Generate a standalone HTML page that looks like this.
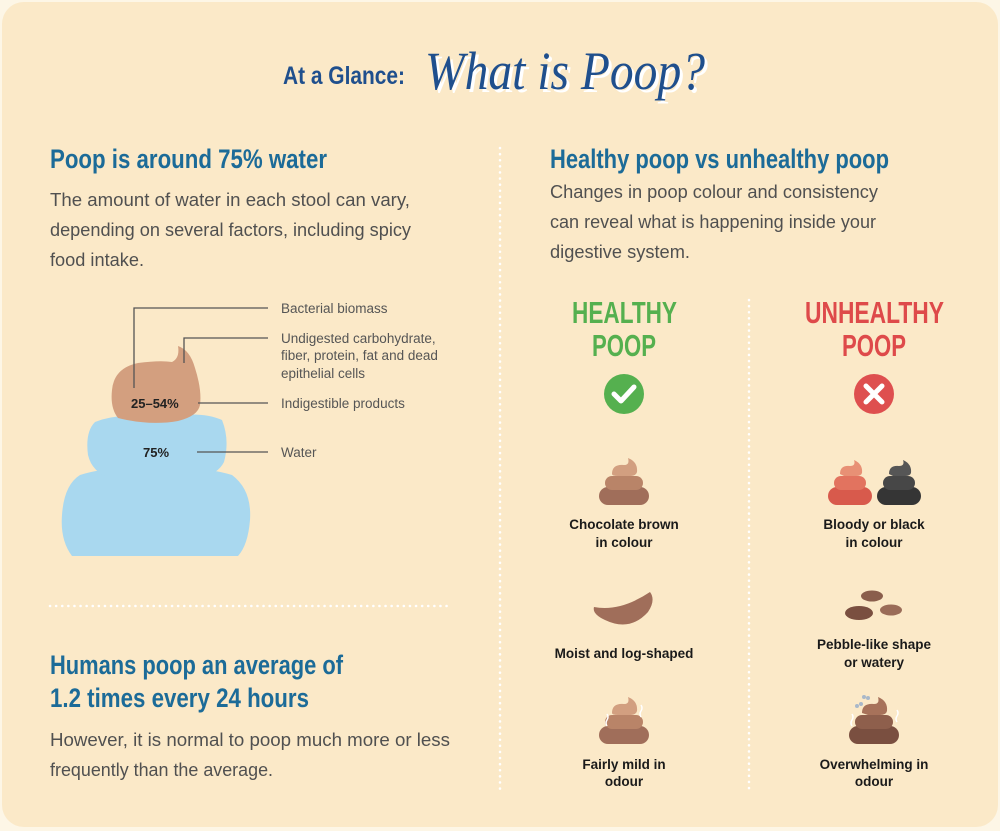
<!DOCTYPE html>
<html><head><meta charset="utf-8"><style>
html,body{margin:0;padding:0;background:#fdf6e6;}
svg{display:block}
</style></head><body>
<svg width="1000" height="831" viewBox="0 0 1000 831" xmlns="http://www.w3.org/2000/svg">
<defs>
<g id="pooH">
<rect x="-25" y="-9" width="50" height="18" rx="9" fill="#a06e5a"/>
<rect x="-19" y="-20" width="38" height="14" rx="7" fill="#b98468"/>
<path d="M-12,-22 Q-12,-32 0,-31 Q6,-31 4,-38 Q14,-34 13,-24 Q12,-20 6,-20 L-6,-20 Q-12,-20 -12,-22Z" fill="#d29f80"/>
</g>
</defs>
<rect x="0" y="0" width="1000" height="831" fill="#fdf6e6"/>
<rect x="2" y="2" width="996" height="825" rx="22" fill="#fbe9c8"/>
<g font-family="'Liberation Sans Narrow','Liberation Sans',sans-serif" font-weight="bold">
<text x="283" y="84" font-size="25" fill="#1f4f8d" textLength="122" lengthAdjust="spacingAndGlyphs">At a Glance:</text>
<text x="428" y="92" font-family="'Liberation Serif',serif" font-style="italic" font-weight="normal" font-size="54" fill="#fff" textLength="280" lengthAdjust="spacingAndGlyphs">What is Poop?</text>
<text x="425" y="89" font-family="'Liberation Serif',serif" font-style="italic" font-weight="normal" font-size="54" fill="#1f4f8d" textLength="280" lengthAdjust="spacingAndGlyphs">What is Poop?</text>
<g fill="#1c6b98" font-size="27">
<text x="50" y="168" textLength="277" lengthAdjust="spacingAndGlyphs">Poop is around 75% water</text>
<text x="550" y="168" textLength="339" lengthAdjust="spacingAndGlyphs">Healthy poop vs unhealthy poop</text>
<text x="50" y="674" textLength="293" lengthAdjust="spacingAndGlyphs">Humans poop an average of</text>
<text x="50" y="707" textLength="259" lengthAdjust="spacingAndGlyphs">1.2 times every 24 hours</text>
</g>
<g font-size="31">
<text x="572" y="323" fill="#55b04f" textLength="105" lengthAdjust="spacingAndGlyphs">HEALTHY</text>
<text x="592" y="356" fill="#55b04f" textLength="64" lengthAdjust="spacingAndGlyphs">POOP</text>
<text x="805" y="323" fill="#de4a4a" textLength="139" lengthAdjust="spacingAndGlyphs">UNHEALTHY</text>
<text x="842" y="356" fill="#de4a4a" textLength="64" lengthAdjust="spacingAndGlyphs">POOP</text>
</g>
</g>
<g font-family="'Liberation Sans',sans-serif" font-size="18" fill="#505050">
<text x="50" y="206" textLength="360" lengthAdjust="spacingAndGlyphs">The amount of water in each stool can vary,</text>
<text x="50" y="236" textLength="361" lengthAdjust="spacingAndGlyphs">depending on several factors, including spicy</text>
<text x="50" y="266" textLength="94" lengthAdjust="spacingAndGlyphs">food intake.</text>
<text x="550" y="198" textLength="328" lengthAdjust="spacingAndGlyphs">Changes in poop colour and consistency</text>
<text x="550" y="228" textLength="326" lengthAdjust="spacingAndGlyphs">can reveal what is happening inside your</text>
<text x="550" y="258" textLength="140" lengthAdjust="spacingAndGlyphs">digestive system.</text>
<text x="50" y="746" textLength="400" lengthAdjust="spacingAndGlyphs">However, it is normal to poop much more or less</text>
<text x="50" y="776" textLength="223" lengthAdjust="spacingAndGlyphs">frequently than the average.</text>
</g>
<g stroke="#fff" stroke-width="2.5" stroke-dasharray="0.1 6" stroke-linecap="round">
<line x1="500" y1="148" x2="500" y2="792"/>
<line x1="749" y1="300" x2="749" y2="792"/>
<line x1="50" y1="606" x2="447" y2="606"/>
</g>
<!-- diagram -->
<g fill="#a9d8ef">
<path d="M80,475 Q110,465 155,470 Q200,465 232,475 Q252,490 250,520 Q248,545 238,556 L72,556 Q60,540 62,515 Q64,485 80,475Z"/>
<path d="M95,422 Q120,412 160,418 Q200,410 222,420 Q230,440 224,462 Q218,474 200,478 L110,478 Q92,472 88,455 Q85,432 95,422Z"/>
</g>
<path d="M112,390 Q114,368 138,363 Q160,360 172,362 Q180,358 178,346 Q190,350 195,368 Q202,390 200,405 Q198,416 178,421 Q150,426 118,418 Q110,408 112,390Z" fill="#d39f7f"/>
<g stroke="#555" stroke-width="1.3" fill="none">
<polyline points="134,388 134,308 268,308"/>
<polyline points="184,363 184,338 268,338"/>
<line x1="198" y1="403" x2="268" y2="403"/>
<line x1="197" y1="452" x2="268" y2="452"/>
</g>
<g font-family="'Liberation Sans',sans-serif" font-size="13.5" fill="#555">
<text x="281" y="313">Bacterial biomass</text>
<text x="281" y="343">Undigested carbohydrate,</text>
<text x="281" y="360">fiber, protein, fat and dead</text>
<text x="281" y="378">epithelial cells</text>
<text x="281" y="408">Indigestible products</text>
<text x="281" y="457">Water</text>
</g>
<g font-family="'Liberation Sans',sans-serif" font-size="13" font-weight="bold" fill="#222">
<text x="131" y="408">25–54%</text>
<text x="143" y="457">75%</text>
</g>
<circle cx="624" cy="394" r="20" fill="#55b04f"/>
<path d="M614,394 L621,401 L634,387" stroke="#fff" stroke-width="5" fill="none" stroke-linecap="round" stroke-linejoin="round"/>
<circle cx="874" cy="394" r="20" fill="#de4f4f"/>
<path d="M866,386 L882,402 M882,386 L866,402" stroke="#fff" stroke-width="5" stroke-linecap="round"/>
<use href="#pooH" x="624" y="496"/>
<g transform="translate(850,496)">
<rect x="-22" y="-9" width="44" height="18" rx="9" fill="#d85a4c"/>
<rect x="-16" y="-20" width="32" height="14" rx="7" fill="#e2735f"/>
<path d="M-10,-22 Q-10,-31 0,-30 Q6,-30 4,-36 Q13,-32 12,-23 Q11,-20 6,-20 L-6,-20Z" fill="#e89075"/>
</g>
<g transform="translate(899,496)">
<rect x="-22" y="-9" width="44" height="18" rx="9" fill="#353535"/>
<rect x="-16" y="-20" width="32" height="14" rx="7" fill="#474747"/>
<path d="M-10,-22 Q-10,-31 0,-30 Q6,-30 4,-36 Q13,-32 12,-23 Q11,-20 6,-20 L-6,-20Z" fill="#565656"/>
</g>
<path d="M594,607 Q620,612 650,592 Q656,600 648,612 Q630,632 605,620 Q592,614 594,607Z" fill="#a06e5a"/>
<ellipse cx="872" cy="596" rx="11" ry="5.5" fill="#8a5e4c"/>
<ellipse cx="859" cy="613" rx="14" ry="7" fill="#7a4f40"/>
<ellipse cx="891" cy="610" rx="11" ry="5.5" fill="#9a6c58"/>
<use href="#pooH" x="624" y="735"/>
<g stroke="#fff" stroke-width="1.5" fill="none"><path d="M607,714 q2,3 0,6 q-2,3 0,6"/><path d="M641,705 q2,3 0,6 q-2,3 0,6"/><path d="M852,714 q2,3 0,6 q-2,3 0,6"/><path d="M897,710 q2,3 0,6 q-2,3 0,6"/></g>
<g transform="translate(874,735)">
<rect x="-25" y="-9" width="50" height="18" rx="9" fill="#7a4f40"/>
<rect x="-19" y="-20" width="38" height="14" rx="7" fill="#8e5f4c"/>
<path d="M-12,-22 Q-12,-32 0,-31 Q6,-31 4,-38 Q14,-34 13,-24 Q12,-20 6,-20 L-6,-20Z" fill="#a7725a"/>
</g>
<g fill="#a9b8c9"><circle cx="857" cy="706" r="2"/><circle cx="861" cy="704" r="2"/><circle cx="864" cy="697" r="2"/><circle cx="868" cy="698" r="2"/></g>
<g font-family="'Liberation Sans',sans-serif" font-size="13.5" font-weight="bold" fill="#1a1a1a" text-anchor="middle">
<text x="624" y="529">Chocolate brown</text>
<text x="624" y="547">in colour</text>
<text x="874" y="529">Bloody or black</text>
<text x="874" y="547">in colour</text>
<text x="624" y="658">Moist and log-shaped</text>
<text x="874" y="649">Pebble-like shape</text>
<text x="874" y="667">or watery</text>
<text x="624" y="769">Fairly mild in</text>
<text x="624" y="786">odour</text>
<text x="874" y="769">Overwhelming in</text>
<text x="874" y="786">odour</text>
</g>
</svg>
</body></html>
